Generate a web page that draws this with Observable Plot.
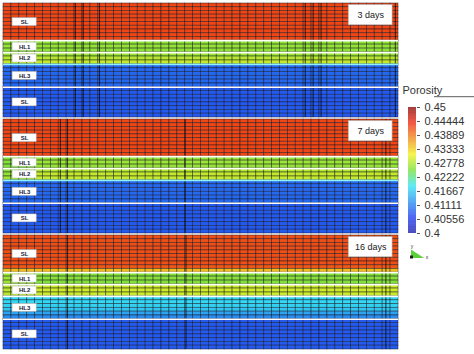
<!DOCTYPE html>
<html><head><meta charset="utf-8">
<script src="https://cdn.jsdelivr.net/npm/d3@7"></script>
<script src="https://cdn.jsdelivr.net/npm/@observablehq/plot@0.6"></script>
<style>
body{margin:0;background:#fff;}
#wrap{position:relative;width:474px;height:354px;overflow:hidden;background:#fff;}
#main{position:absolute;left:0;top:0;}
#bar{position:absolute;left:400px;top:0;}
svg{font-family:"Liberation Sans",Arial,sans-serif;}
</style></head><body><div id="wrap"><div id="main"></div><div id="bar"></div></div>
<script>
// ---- data ----
const panels = ["3 days", "7 days", "16 days"];
const layerNames = ["SL", "HL1", "HL2", "HL3", "SL"];
const layerThickness = [37.5, 12, 12, 23, 30.5];
const layerRows = [10, 3, 3, 6, 8];
const nColumns = 50;
// porosity per element row, top to bottom
const porosity3days = [
  0.4420,0.4420,0.4420,0.4420,0.4420,0.4420,0.4420,0.4420,0.4420,0.4420,
  0.4262,0.4265,0.4262,
  0.4268,0.4280,0.4290,
  0.4095,0.4095,0.4095,0.4095,0.4095,0.4095,
  0.4085,0.4085,0.4085,0.4085,0.4085,0.4085,0.4085,0.4085
];
const porosity7days = [
  0.4420,0.4420,0.4420,0.4420,0.4420,0.4420,0.4420,0.4420,0.4420,0.4420,
  0.4265,0.4268,0.4265,
  0.4280,0.4288,0.4290,
  0.4096,0.4096,0.4096,0.4096,0.4096,0.4096,
  0.4085,0.4085,0.4085,0.4085,0.4085,0.4085,0.4085,0.4085
];
const porosity16days = [
  0.4414,0.4414,0.4414,0.4414,0.4414,0.4414,0.4414,0.4414,0.4410,0.4345,
  0.4255,0.4258,0.4255,
  0.4292,0.4295,0.4292,
  0.4178,0.4178,0.4175,0.4165,0.4140,0.4122,
  0.4085,0.4085,0.4085,0.4085,0.4085,0.4085,0.4085,0.4085
];
// porosity of the rows in the first 4 columns (left edge), where it differs
const edgePorosity3days = porosity3days;
const edgePorosity7days = [
  0.4420,0.4420,0.4420,0.4420,0.4420,0.4420,0.4420,0.4420,0.4420,0.4420,
  0.4255,0.4256,0.4255,
  0.4260,0.4265,0.4270,
  0.4096,0.4096,0.4096,0.4096,0.4096,0.4096,
  0.4085,0.4085,0.4085,0.4085,0.4085,0.4085,0.4085,0.4085
];
const edgePorosity16days = [
  0.4414,0.4414,0.4414,0.4414,0.4414,0.4414,0.4414,0.4414,0.4410,0.4345,
  0.4268,0.4270,0.4268,
  0.4282,0.4285,0.4282,
  0.4178,0.4178,0.4175,0.4165,0.4140,0.4122,
  0.4085,0.4085,0.4085,0.4085,0.4085,0.4085,0.4085,0.4085
];
const edgeColumns = 4;
// darker mesh lines (column positions) per panel
const darkColumns3days = [9.1, 10.1, 12.15, 38.2, 39.2, 40.2, 49.6];
const darkColumns7days = [7.2, 8.1, 23.0, 48.4];
const darkColumns16days = [8.1, 23.1, 48.4];
const tickValues = [0.4, 0.40556, 0.41111, 0.41667, 0.42222, 0.42778, 0.43333, 0.43889, 0.44444, 0.45];
const tickLabels = ["0.4", "0.40556", "0.41111", "0.41667", "0.42222", "0.42778", "0.43333", "0.43889", "0.44444", "0.45"];

// ---- derived tables ----
const porosityByPanel = [porosity3days, porosity7days, porosity16days];
const edgeByPanel = [edgePorosity3days, edgePorosity7days, edgePorosity16days];
const darkByPanel = [darkColumns3days, darkColumns7days, darkColumns16days];
const rows = [];
let acc = 0;
layerThickness.forEach((t, li) => {
  const h = t / layerRows[li];
  for (let r = 0; r < layerRows[li]; r++) rows.push({y1: acc + r * h, y2: acc + (r + 1) * h});
  acc += t;
});
const totalDepth = d3.sum(layerThickness);
const boundaries = Array.from(d3.cumsum(layerThickness)).slice(0, -1);
const layerCenters = layerThickness.map((t, i) => d3.sum(layerThickness.slice(0, i)) + t / 2);

const cells = [];
panels.forEach((p, pi) => rows.forEach((row, ri) => {
  for (let c = 0; c < nColumns; c++) {
    cells.push({panel: p, x1: c, x2: c + 1, y1: row.y1, y2: row.y2,
      v: c < edgeColumns ? edgeByPanel[pi][ri] : porosityByPanel[pi][ri]});
  }
}));
const seps = [];
panels.forEach((p, pi) => boundaries.forEach((b, k) => seps.push({panel: p, y: b, k, pi})));
const darks = [];
panels.forEach((p, pi) => darkByPanel[pi].forEach(x => darks.push({panel: p, x})));
const labels = [];
panels.forEach(p => layerNames.forEach((n, i) => labels.push({panel: p, name: n, y: layerCenters[i]})));

const colorScale = {
  type: "linear",
  domain: [0.4, 0.40625, 0.41875, 0.425, 0.43125, 0.44375, 0.45],
  range: ["#1c1ca8", "#1f3cf0", "#34e4f2", "#78e03a", "#f2f020", "#ee2a12", "#8a0a0a"]
};

const main = Plot.plot({
  width: 400, height: 354,
  marginTop: 2, marginBottom: 4, marginLeft: 3, marginRight: 2,
  x: {domain: [0, nColumns], axis: null},
  y: {domain: [0, totalDepth], reverse: true, axis: null},
  fy: {domain: panels, axis: null, paddingInner: 0.013, paddingOuter: 0},
  color: colorScale,
  marks: [
    Plot.rect(cells, {x1: "x1", x2: "x2", y1: "y1", y2: "y2", fy: "panel", fill: "v",
      stroke: "#101020", strokeOpacity: 0.55, strokeWidth: 0.8}),
    Plot.ruleX(darks, {x: "x", y1: 0, y2: totalDepth, fy: "panel", stroke: "#000", strokeOpacity: 0.65, strokeWidth: 1.1}),
    Plot.ruleY(seps.filter(d => !(d.k === 2 && d.pi < 2)), {y: "y", x1: 0, x2: nColumns, fy: "panel", stroke: "#fff", strokeWidth: 1.7}),
    Plot.ruleY(seps.filter(d => d.k === 2 && d.pi < 2), {y: "y", x1: 0, x2: nColumns, fy: "panel", stroke: "#8ff2f6", strokeWidth: 1.7}),
    Plot.rect(labels, {x1: 1.15, x2: 4.2, y1: d => d.y - 4, y2: d => d.y + 4, fy: "panel", fill: "#fff", stroke: "#bbb", strokeWidth: 0.5}),
    Plot.text(labels, {x: 2.67, y: "y", fy: "panel", text: "name", fontSize: 6, fontWeight: "bold", fill: "#1a1a3a"}),
    Plot.rect(panels, {x1: 43.7, x2: 49.25, y1: 1.5, y2: 22, fy: d => d, fill: "#fff", stroke: "#aaa", strokeWidth: 0.6}),
    Plot.text(panels, {x: 46.5, y: 11.8, fy: d => d, text: d => d, fontSize: 9, fill: "#222"})
  ]
});
document.getElementById("main").appendChild(main);

function triad(index, scales, values, dims) {
  const g = d3.create("svg:g");
  g.append("line").attr("x1", 34).attr("x2", 74).attr("y1", 96.7).attr("y2", 96.7).attr("stroke", "#333").attr("stroke-width", 0.8);
  g.append("path").attr("d", "M11,249.5L11,258L24,258Z").attr("fill", "#5ad13a");
  g.append("rect").attr("x", 10).attr("y", 255.5).attr("width", 3).attr("height", 3).attr("fill", "#222");
  g.append("text").attr("x", 12).attr("y", 248).attr("font-size", 5).attr("fill", "#333").text("y");
  g.append("text").attr("x", 27).attr("y", 259).attr("font-size", 5).attr("fill", "#333").text("x");
  return g.node();
}

const grad = d3.range(0, 200).map(i => 0.4 + i * 0.00025);
const bar = Plot.plot({
  width: 74, height: 354,
  marginLeft: 8, marginRight: 58, marginTop: 107, marginBottom: 121,
  x: {domain: [0, 1], axis: null},
  y: {domain: [0.4, 0.45], axis: null},
  color: colorScale,
  style: {fontFamily: "Liberation Sans, Arial, sans-serif", color: "#333"},
  marks: [
    Plot.rect(grad, {x1: 0, x2: 1, y1: d => d, y2: d => d + 0.00026, fill: d => d + 0.000125}),
    Plot.axisY({anchor: "right", ticks: tickValues, tickFormat: d => tickLabels[tickValues.indexOf(d)], tickSize: 3, tickPadding: 5, fontSize: 11, stroke: "#555"}),
    Plot.text(["Porosity"], {frameAnchor: "top-left", dx: -6, dy: -17, text: d => d, textAnchor: "start", lineAnchor: "middle", fontSize: 11, fill: "#333"}),
    triad
  ]
});
document.getElementById("bar").appendChild(bar);
</script>
</body></html>
